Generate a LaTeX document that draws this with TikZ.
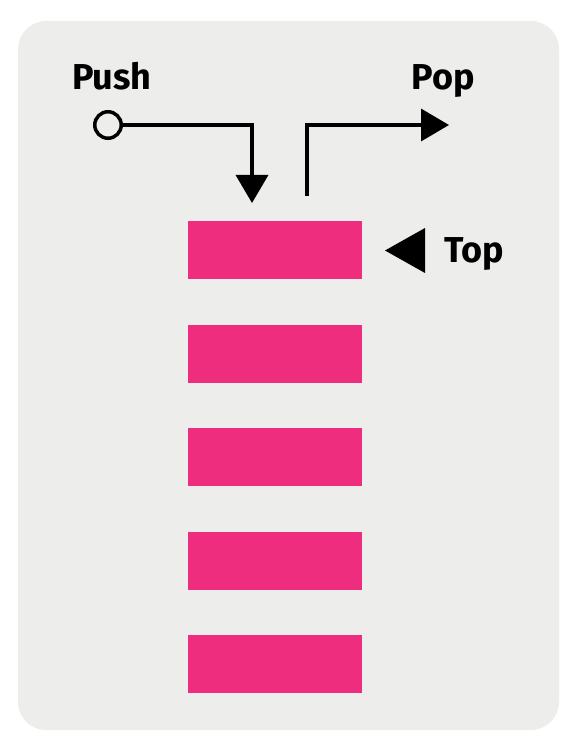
\documentclass[tikz,border=0pt]{standalone}
\usepackage{fontspec}
\setmainfont{Fira Sans}
\usetikzlibrary{arrows.meta}

\definecolor{panelgray}{RGB}{237,237,235}
\definecolor{cellpink}{RGB}{238,45,126}

\tikzset{
  cell/.style={fill=cellpink, inner sep=0pt, minimum width=174pt, minimum height=58pt},
  flow/.style={line width=3.5pt, -{Triangle[length=28pt, width=32pt]}},
  lbl/.style={font=\fontsize{36}{40}\selectfont\bfseries, inner sep=0pt, anchor=base},
  port/.style={circle, draw, line width=3.5pt, minimum size=26.5pt, inner sep=0pt}
}

\begin{document}
\begin{tikzpicture}[x=1pt, y=-1pt]

\useasboundingbox (0,0) rectangle (575,751);
\fill[panelgray, rounded corners=28pt] (18,21) rectangle (559,730);

\node[cell] (c1) at (275,250) {};
\node[cell] (c2) at (275,353.5) {};
\node[cell] (c3) at (275,457) {};
\node[cell] (c4) at (275,560.5) {};
\node[cell] (c5) at (275,663.5) {};

\node[port] (pushin) at (108,125) {};
\node[lbl] (pushlbl) at (112,90) {Push};
\node[lbl] (poplbl) at (443,90) {Pop};
\node[lbl] (toplbl) at (474,262) {Top};

\coordinate (pushend) at (252,203);
\coordinate (popstart) at (307,196);
\coordinate (popend) at (449,125);
\coordinate (toptip) at (385,250.5);

\draw[flow] (pushin.east) -| (pushend);
\draw[flow] (popstart) |- (popend);
\fill (toptip) -- ++(40,-22.5) -- ++(0,45) -- cycle;

\end{tikzpicture}
\end{document}
